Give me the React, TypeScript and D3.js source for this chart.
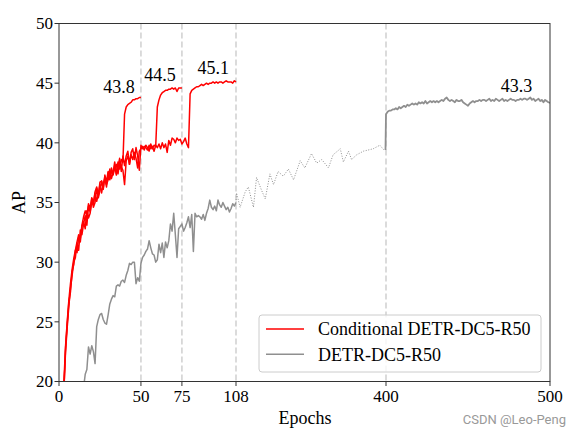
import * as d3 from 'd3';

const WIDTH = 581;
const HEIGHT = 435;

// x axis is piecewise: 0-108 wide, 108-400 squeezed, 400-500 wide
const xBreaks = [0, 108, 400, 500];
const xTicks = [0, 50, 75, 108, 400, 500];
const yTicks = [20, 25, 30, 35, 40, 45, 50];
const milestones = [50, 75, 108, 400];

// Conditional DETR, 108 epoch schedule (epochs 1..108)
const condDetr108 = [
  8, 14, 19.5, 22.5, 24.5, 26.3, 27.8, 28.9, 30.0, 30.4,
  31.6, 31.0, 32.7, 32.3, 33.2, 33.9, 33.1, 34.7, 34.2, 35.3,
  34.6, 35.0, 36.2, 35.4, 36.0, 36.8, 36.1, 37.3, 36.5, 36.9,
  37.8, 37.0, 37.5, 38.4, 37.4, 38.0, 38.7, 37.6, 38.9, 38.1,
  38.9, 39.3, 38.2, 39.2, 39.5, 38.6, 39.6, 38.9, 37.7, 39.8,
  39.5, 39.7, 39.6, 39.4, 39.8, 39.5, 39.7, 39.3, 39.8, 39.6,
  39.9, 39.5, 40.0, 39.6, 39.9, 39.2, 40.2, 39.8, 40.4, 40.3,
  40.0, 40.4, 40.2, 40.3, 39.9, 40.1, 40.4, 39.9, 39.6, 44.1,
  44.4, 44.5, 44.6, 44.7, 44.7, 44.8, 44.9, 44.8, 44.9, 45.0,
  44.9, 45.0, 45.0, 45.1, 45.0, 45.1, 45.0, 45.1, 45.1, 45.0,
  45.1, 45.2, 45.1, 45.1, 45.1, 45.0, 45.2, 45.1,
];

// Conditional DETR, 75 epoch schedule (epochs 1..75)
const condDetr75 = [
  7.5, 13.5, 19.2, 22.8, 24.8, 26.6, 27.5, 29.2, 29.8, 31.0,
  30.8, 32.1, 31.7, 33.0, 33.4, 32.8, 34.3, 33.7, 34.1, 35.1,
  34.8, 35.8, 35.1, 35.7, 36.5, 35.8, 36.6, 37.0, 36.3, 37.5,
  36.9, 37.7, 37.3, 37.9, 38.2, 37.4, 38.4, 38.0, 37.7, 36.5,
  38.5, 38.9, 38.2, 39.0, 38.6, 39.2, 38.7, 37.9, 39.3, 39.5,
  39.7, 39.4, 39.8, 39.6, 39.3, 39.9, 39.5, 39.8, 39.7, 43.0,
  43.6, 44.0, 44.2, 44.3, 44.4, 44.4, 44.5, 44.5, 44.6, 44.5,
  44.6, 44.3, 44.6, 44.6, 44.6,
];

// Conditional DETR, 50 epoch schedule (epochs 1..50)
const condDetr50 = [
  8, 14.5, 20, 23, 25, 26.8, 28.2, 29.4, 30.3, 31.0,
  31.7, 32.3, 32.0, 33.1, 33.8, 34.3, 33.9, 34.9, 34.5, 35.4,
  35.0, 35.9, 36.3, 35.6, 36.7, 36.8, 36.2, 37.2, 36.8, 37.6,
  37.0, 37.9, 37.4, 38.1, 37.3, 38.4, 37.8, 38.6, 38.4, 42.4,
  43.0, 43.2, 43.3, 43.4, 43.6, 43.6, 43.7, 43.7, 43.8, 43.8,
];

// DETR, first 108 epochs (epochs 13..108)
const detrEarlyStart = 13;
const detrEarly = [
  15, 17.5, 19.5, 20.6, 21.0, 22.9, 22.3, 23.0, 22.5, 21.5,
  24.6, 25.2, 25.6, 25.7, 25.2, 24.9, 24.8, 25.6, 26.5, 26.9,
  27.2, 27.1, 28.0, 28.1, 28.0, 28.4, 28.5, 28.3, 28.9, 29.3,
  29.9, 29.8, 30.0, 30.0, 28.2, 28.7, 28.4, 29.9, 30.4, 30.6,
  30.9, 31.1, 31.8, 31.2, 30.7, 30.6, 30.0, 30.2, 31.5, 30.8,
  31.6, 30.4, 31.7, 31.2, 31.8, 33.2, 32.6, 34.1, 32.3, 30.4,
  32.8, 33.0, 33.2, 32.6, 32.9, 33.3, 33.8, 32.9, 34.0, 30.9,
  34.1, 33.8, 33.9, 33.8, 33.6, 34.0, 33.5, 34.1, 34.5, 35.2,
  34.6, 34.4, 34.7, 34.3, 35.2, 34.8, 34.6, 35.0, 34.7, 34.4,
  34.6, 34.2, 34.5, 34.9, 34.7, 35.0,
];

// DETR, sparse evaluations between 108 and 400 (drawn dotted)
const detrMidEpochs = [
  108, 109, 116, 126, 132, 142, 148, 158, 165, 174,
  181, 190, 200, 210, 220, 233, 242, 255, 265, 275,
  288, 297, 311, 317, 327, 333, 343, 356, 375, 388, 396,
];
const detrMid = [
  35.0, 35.8, 34.6, 35.9, 36.3, 34.6, 37.1, 36.0, 35.3, 37.4,
  36.5, 37.6, 37.2, 37.8, 36.9, 38.5, 37.9, 39.1, 38.3, 38.6,
  37.9, 39.0, 39.5, 38.4, 39.3, 38.6, 39.0, 39.3, 39.5, 39.8, 39.4,
];

// DETR, final epochs (epochs 399..500)
const detrLateStart = 399;
const detrLate = [
  39.4,
  42.4, 42.6, 42.7, 42.7, 42.8, 42.8, 42.9, 42.8, 43.0, 42.9,
  43.0, 43.1, 43.0, 43.2, 43.1, 43.2, 43.3, 43.2, 43.3, 43.2,
  43.4, 43.3, 43.4, 43.3, 43.5, 43.3, 43.4, 43.5, 43.4, 43.5,
  43.4, 43.5, 43.4, 43.5, 43.6, 43.5, 43.7, 43.8, 43.6, 43.5,
  43.6, 43.5, 43.4, 43.6, 43.5, 43.5, 43.6, 43.4, 43.3, 43.2,
  43.1, 43.3, 43.4, 43.5, 43.4, 43.5, 43.5, 43.6, 43.5, 43.6,
  43.6, 43.5, 43.6, 43.7, 43.5, 43.6, 43.5, 43.7, 43.6, 43.5,
  43.6, 43.7, 43.5, 43.6, 43.5, 43.6, 43.7, 43.6, 43.6, 43.5,
  43.6, 43.6, 43.7, 43.6, 43.7, 43.7, 43.6, 43.7, 43.8, 43.6,
  43.7, 43.5, 43.6, 43.7, 43.5, 43.6, 43.4, 43.6, 43.5, 43.4,
  43.35,
];

// final AP annotations: text, epoch (centre), AP (baseline)
const noteTexts = ['43.8', '44.5', '45.1', '43.3'];
const noteEpochs = [36.6, 61.6, 94.1, 479.6];
const noteAPs = [44.15, 45.15, 45.8, 44.25];

const legendLabels = ['Conditional DETR-DC5-R50', 'DETR-DC5-R50'];

const RED = '#ff0000';
const GREY = '#8f8f8f';
const SERIF = '"Liberation Serif", "Times New Roman", serif';

type Pt = [number, number];

const fromStart = (start: number, vals: number[]): Pt[] =>
  vals.map((v, i) => [start + i, v]);

export default function App() {
  const x = d3.scaleLinear().domain(xBreaks).range([59, 236, 386, 550]);
  const y = d3.scaleLinear().domain([20, 50]).range([381.5, 23.5]);
  const [x0, x1] = [x(0), x(500)];
  const [yb, yt] = [y(20), y(50)];

  const line = d3
    .line<Pt>()
    .x((d) => x(d[0]))
    .y((d) => y(d[1]));

  const series = [
    { pts: fromStart(1, condDetr108), color: RED, dash: undefined, w: 1.5 },
    { pts: fromStart(1, condDetr75), color: RED, dash: undefined, w: 1.5 },
    { pts: fromStart(1, condDetr50), color: RED, dash: undefined, w: 1.5 },
    { pts: fromStart(detrEarlyStart, detrEarly), color: GREY, dash: undefined, w: 1.5 },
    {
      pts: detrMidEpochs.map((e, i) => [e, detrMid[i]] as Pt),
      color: GREY,
      dash: '1,1.6',
      w: 1,
    },
    { pts: fromStart(detrLateStart, detrLate), color: GREY, dash: undefined, w: 1.8 },
  ];

  return (
    <div style={{ position: 'fixed', left: 0, top: 0 }}>
      <svg width={WIDTH} height={HEIGHT} style={{ display: 'block', background: '#fff' }}>
        <defs>
          <clipPath id="plot">
            <rect x={x0} y={yt} width={x1 - x0} height={yb - yt} />
          </clipPath>
        </defs>

        {milestones.map((m) => (
          <line
            key={m}
            x1={x(m)}
            x2={x(m)}
            y1={yt}
            y2={yb}
            stroke="#d0d0d0"
            strokeWidth={1.5}
            strokeDasharray="6,3"
          />
        ))}

        <g clipPath="url(#plot)">
          {series.map((s, i) => (
            <path
              key={i}
              d={line(s.pts) ?? ''}
              fill="none"
              stroke={s.color}
              strokeWidth={s.w}
              strokeDasharray={s.dash}
              strokeLinejoin="round"
            />
          ))}
        </g>

        {/* frame */}
        <rect x={x0} y={yt} width={x1 - x0} height={yb - yt} fill="none" stroke="#333" strokeWidth={1} />

        {/* x ticks */}
        {xTicks.map((t) => (
          <g key={t} transform={`translate(${x(t)},${yb})`}>
            <line y2={4.5} stroke="#333" />
            <text y={20} textAnchor="middle" fontFamily={SERIF} fontSize={17} fill="#000">
              {t}
            </text>
          </g>
        ))}

        {/* y ticks */}
        {yTicks.map((t) => (
          <g key={t} transform={`translate(${x0},${y(t)})`}>
            <line x2={-4.5} stroke="#333" />
            <text x={-6} dy="0.35em" textAnchor="end" fontFamily={SERIF} fontSize={17} fill="#000">
              {t}
            </text>
          </g>
        ))}

        <text x={305} y={424} textAnchor="middle" fontFamily={SERIF} fontSize={18} fill="#000">
          Epochs
        </text>
        <text
          transform={`translate(25,${(yt + yb) / 2}) rotate(-90)`}
          textAnchor="middle"
          fontFamily={SERIF}
          fontSize={18}
          fill="#000"
        >
          AP
        </text>

        {noteTexts.map((t, i) => (
          <text
            key={t}
            x={x(noteEpochs[i])}
            y={y(noteAPs[i])}
            textAnchor="middle"
            fontFamily={SERIF}
            fontSize={18}
            fill="#000"
          >
            {t}
          </text>
        ))}

        {/* legend */}
        <g transform="translate(259,315)">
          <rect width={282} height={57} rx={3} fill="#fff" fillOpacity={0.8} stroke="#cccccc" />
          {legendLabels.map((l, i) => (
            <g key={l} transform={`translate(0,${14 + i * 25.3})`}>
              <line x1={7} x2={45} stroke={i === 0 ? RED : GREY} strokeWidth={1.5} />
              <text x={59} dy="0.35em" fontFamily={SERIF} fontSize={18} fill="#000">
                {l}
              </text>
            </g>
          ))}
        </g>

        <text x={566} y={424} textAnchor="end" fontFamily="Roboto, 'Noto Sans', sans-serif" fontSize={13} fill="#999">
          CSDN @Leo-Peng
        </text>
      </svg>
    </div>
  );
}
